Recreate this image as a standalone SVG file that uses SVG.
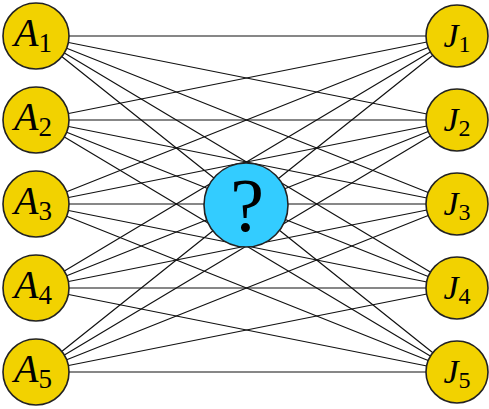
<svg xmlns="http://www.w3.org/2000/svg" width="489" height="409" viewBox="0 0 489 409">
<style>
.e{stroke:#111;stroke-width:1.2;fill:none}
.n{fill:#F2D200;stroke:#222;stroke-width:1.6}
.c{fill:#33CCFF;stroke:#222;stroke-width:1.6}
text{font-family:'Liberation Serif','DejaVu Serif',serif;fill:#000}
.v{font-style:italic}
</style>
<rect width="489" height="409" fill="#fff"/>
<g id="edges" class="e">
<path d="M36 36L457 36M36 36L457 120M36 36L457 204M36 36L457 288M36 36L457 372"/>
<path d="M36 120L457 36M36 120L457 120M36 120L457 204M36 120L457 288M36 120L457 372"/>
<path d="M36 204L457 36M36 204L457 120M36 204L457 204M36 204L457 288M36 204L457 372"/>
<path d="M36 288L457 36M36 288L457 120M36 288L457 204M36 288L457 288M36 288L457 372"/>
<path d="M36 372L457 36M36 372L457 120M36 372L457 204M36 372L457 288M36 372L457 372"/>
</g>
<g id="A1"><circle class="n" cx="36" cy="36" r="33"/><text x="33" y="46" text-anchor="middle"><tspan class="v" font-size="40">A</tspan><tspan font-size="27" dy="6">1</tspan></text></g>
<g id="A2"><circle class="n" cx="36" cy="120" r="33"/><text x="33" y="130" text-anchor="middle"><tspan class="v" font-size="40">A</tspan><tspan font-size="27" dy="6">2</tspan></text></g>
<g id="A3"><circle class="n" cx="36" cy="204" r="33"/><text x="33" y="214" text-anchor="middle"><tspan class="v" font-size="40">A</tspan><tspan font-size="27" dy="6">3</tspan></text></g>
<g id="A4"><circle class="n" cx="36" cy="288" r="33"/><text x="33" y="298" text-anchor="middle"><tspan class="v" font-size="40">A</tspan><tspan font-size="27" dy="6">4</tspan></text></g>
<g id="A5"><circle class="n" cx="36" cy="372" r="33"/><text x="33" y="382" text-anchor="middle"><tspan class="v" font-size="40">A</tspan><tspan font-size="27" dy="6">5</tspan></text></g>
<g id="J1"><circle class="n" cx="457" cy="36" r="31"/><text x="457" y="47" text-anchor="middle"><tspan class="v" font-size="34">J</tspan><tspan font-size="24" dy="5">1</tspan></text></g>
<g id="J2"><circle class="n" cx="457" cy="120" r="31"/><text x="457" y="131" text-anchor="middle"><tspan class="v" font-size="34">J</tspan><tspan font-size="24" dy="5">2</tspan></text></g>
<g id="J3"><circle class="n" cx="457" cy="204" r="31"/><text x="457" y="215" text-anchor="middle"><tspan class="v" font-size="34">J</tspan><tspan font-size="24" dy="5">3</tspan></text></g>
<g id="J4"><circle class="n" cx="457" cy="288" r="31"/><text x="457" y="299" text-anchor="middle"><tspan class="v" font-size="34">J</tspan><tspan font-size="24" dy="5">4</tspan></text></g>
<g id="J5"><circle class="n" cx="457" cy="372" r="31"/><text x="457" y="383" text-anchor="middle"><tspan class="v" font-size="34">J</tspan><tspan font-size="24" dy="5">5</tspan></text></g>
<g id="Q"><circle class="c" cx="246" cy="205" r="42"/><text x="247" y="231" text-anchor="middle" font-size="76">?</text></g>
</svg>
